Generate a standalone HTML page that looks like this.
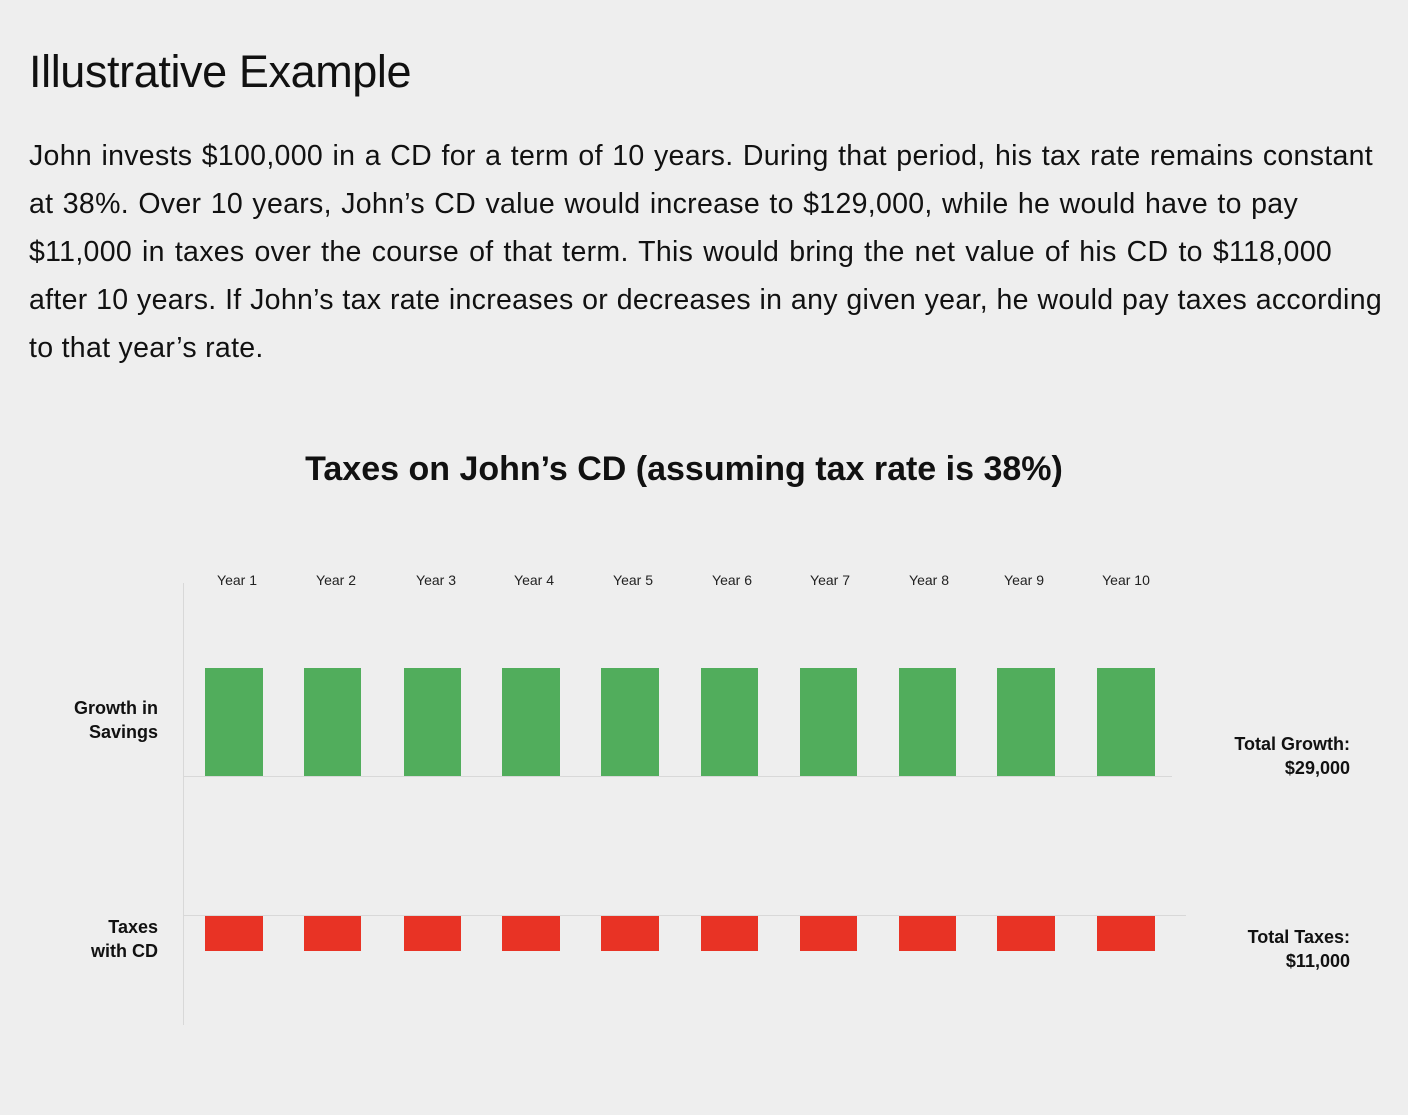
<!DOCTYPE html>
<html><head><meta charset="utf-8"><style>
body{margin:0;width:1408px;height:1115px;background:#eeeeee;position:relative;overflow:hidden;font-family:"Liberation Sans",sans-serif;color:#111}
.a{position:absolute;white-space:nowrap}
h1{position:absolute;left:29px;top:44px;margin:0;font-weight:400;font-size:45px;letter-spacing:-0.4px;line-height:56px}
.p{position:absolute;left:29px;font-size:28.5px;letter-spacing:0.3px;line-height:48px;white-space:nowrap;text-align:justify;text-align-last:justify}
.g{position:absolute;top:668px;height:108px;background:#51ad5c}
.r{position:absolute;top:916px;height:35px;background:#e83325}
.y{position:absolute;top:572px;font-size:14px;color:#222;width:80px;text-align:center}
.l{position:absolute;font-weight:bold;font-size:18px;text-align:right;line-height:24px}
</style></head><body>
<h1>Illustrative Example</h1>
<div class="p" style="top:132px;width:1344px">John invests $100,000 in a CD for a term of 10 years. During that period, his tax rate remains constant</div>
<div class="p" style="top:180px;width:1269px">at 38%. Over 10 years, John’s CD value would increase to $129,000, while he would have to pay</div>
<div class="p" style="top:228px;width:1303px">$11,000 in taxes over the course of that term. This would bring the net value of his CD to $118,000</div>
<div class="p" style="top:276px;width:1353px">after 10 years. If John’s tax rate increases or decreases in any given year, he would pay taxes according</div>
<div class="p" style="top:324px;text-align:left;text-align-last:left">to that year’s rate.</div>
<div class="a" style="left:0;width:1368px;text-align:center;top:450px;font-size:34px;font-weight:bold;">Taxes on John’s CD (assuming tax rate is 38%)</div>
<div class="a" style="left:183px;top:583px;width:1px;height:442px;background:#d8d8d8"></div>
<div class="a" style="left:183px;top:776px;width:989px;height:1px;background:#d8d8d8"></div>
<div class="a" style="left:183px;top:915px;width:1003px;height:1px;background:#d8d8d8"></div>
<div class="g" style="left:205px;width:58px"></div><div class="g" style="left:304px;width:57px"></div><div class="g" style="left:404px;width:57px"></div><div class="g" style="left:502px;width:58px"></div><div class="g" style="left:601px;width:58px"></div><div class="g" style="left:701px;width:57px"></div><div class="g" style="left:800px;width:57px"></div><div class="g" style="left:899px;width:57px"></div><div class="g" style="left:997px;width:58px"></div><div class="g" style="left:1097px;width:58px"></div>
<div class="r" style="left:205px;width:58px"></div><div class="r" style="left:304px;width:57px"></div><div class="r" style="left:404px;width:57px"></div><div class="r" style="left:502px;width:58px"></div><div class="r" style="left:601px;width:58px"></div><div class="r" style="left:701px;width:57px"></div><div class="r" style="left:800px;width:57px"></div><div class="r" style="left:899px;width:57px"></div><div class="r" style="left:997px;width:58px"></div><div class="r" style="left:1097px;width:58px"></div>
<div class="y" style="left:197px">Year 1</div><div class="y" style="left:296px">Year 2</div><div class="y" style="left:396px">Year 3</div><div class="y" style="left:494px">Year 4</div><div class="y" style="left:593px">Year 5</div><div class="y" style="left:692px">Year 6</div><div class="y" style="left:790px">Year 7</div><div class="y" style="left:889px">Year 8</div><div class="y" style="left:984px">Year 9</div><div class="y" style="left:1086px">Year 10</div>
<div class="l" style="right:1250px;top:696px">Growth in<br>Savings</div>
<div class="l" style="right:1250px;top:915px">Taxes<br>with CD</div>
<div class="l" style="right:58px;top:732px">Total Growth:<br>$29,000</div>
<div class="l" style="right:58px;top:925px">Total Taxes:<br>$11,000</div>
</body></html>
